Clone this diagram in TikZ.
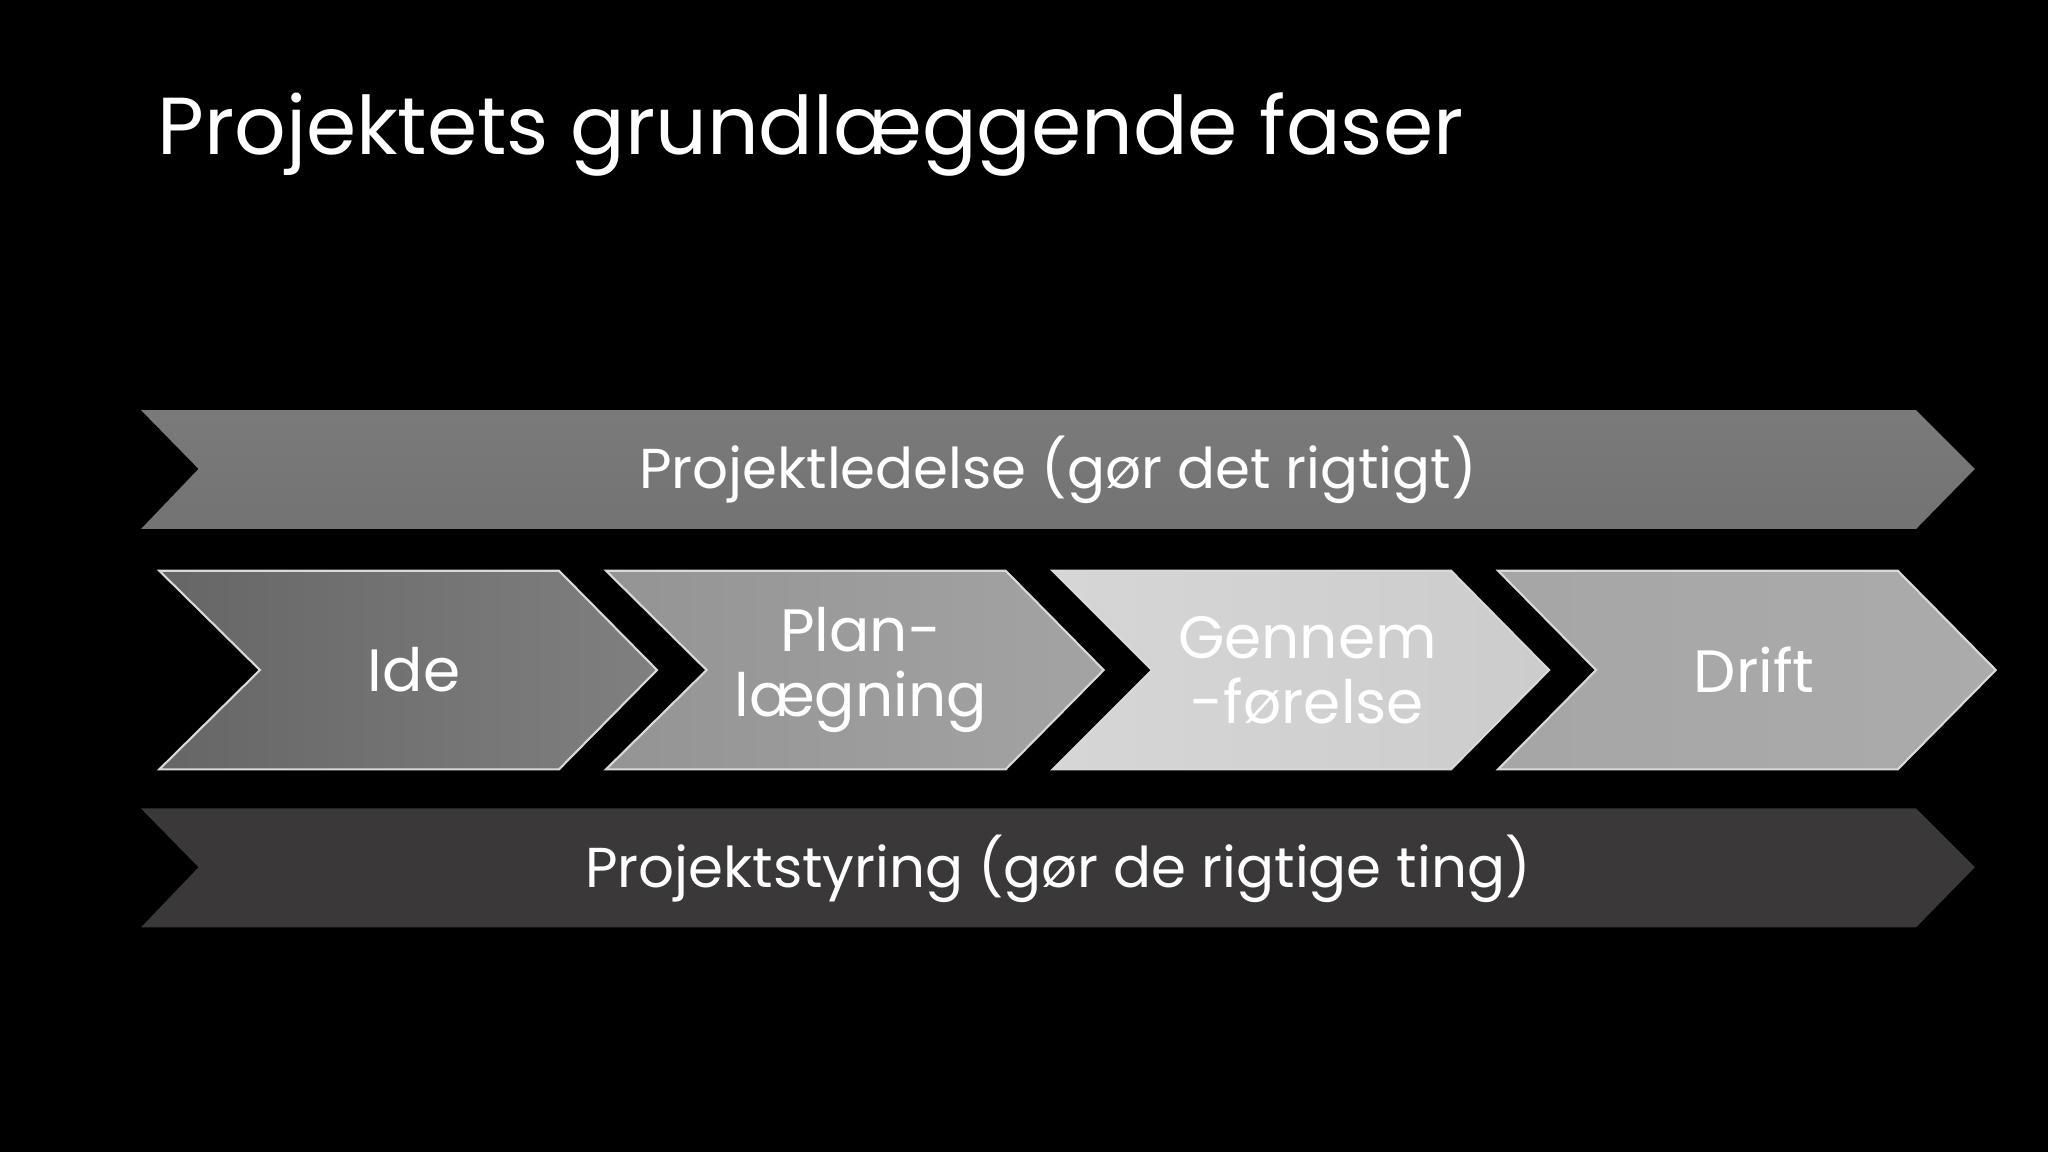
\documentclass[tikz,border=0pt]{standalone}
\usepackage{fontspec}
\setmainfont{Poppins}
\begin{document}
\begin{tikzpicture}[x=0.01306cm,y=-0.01306cm,
 lbl/.style={text=white,font=\fontsize{16}{16}\selectfont,align=center},
 chev/.style={draw=white!85!black,line width=0.6pt}]
\fill[black] (0,0) rectangle (1568,882);
\useasboundingbox (0,0) rectangle (1568,882);
\node[anchor=base west,text=white,font=\fontsize{23}{23}\selectfont,inner sep=0] (title) at (120,118) {Projektets grundlæggende faser};
% banners
\fill[top color=black!52,bottom color=black!55] (108,314) -- (1467,314) -- (1512,359) -- (1467,405) -- (108,405) -- (152,359) -- cycle;
\node[lbl] (led) at (810,360) {Projektledelse (gør det rigtigt)};
\fill[color={rgb,255:red,58;green,56;blue,56}] (108,619) -- (1467,619) -- (1512,664) -- (1467,710) -- (108,710) -- (152,664) -- cycle;
\node[lbl] (sty) at (810,665) {Projektstyring (gør de rigtige ting)};
% chevrons
\shade[chev,left color=black!60,right color=black!50] (122,437) -- (428,437) -- (503,513) -- (428,589) -- (122,589) -- (199,513) -- cycle;
\shade[chev,left color=black!42,right color=black!36] (464,437) -- (770,437) -- (845,513) -- (770,589) -- (464,589) -- (541,513) -- cycle;
\shade[chev,left color=black!16,right color=black!20] (806,437) -- (1111,437) -- (1186,513) -- (1111,589) -- (806,589) -- (882,513) -- cycle;
\shade[chev,left color=black!35,right color=black!33] (1147,437) -- (1453,437) -- (1528,513) -- (1453,589) -- (1147,589) -- (1222,513) -- cycle;
\node[lbl,font=\fontsize{17}{18.5}\selectfont] (ide) at (317,513) {Ide};
\node[lbl,font=\fontsize{17}{18.5}\selectfont] (plan) at (659,513) {Plan-\\lægning};
\node[lbl,font=\fontsize{17}{18.5}\selectfont] (gen) at (1001,513) {Gennem\\-førelse};
\node[lbl,font=\fontsize{17}{18.5}\selectfont] (drift) at (1343,513) {Drift};
\end{tikzpicture}
\end{document}
